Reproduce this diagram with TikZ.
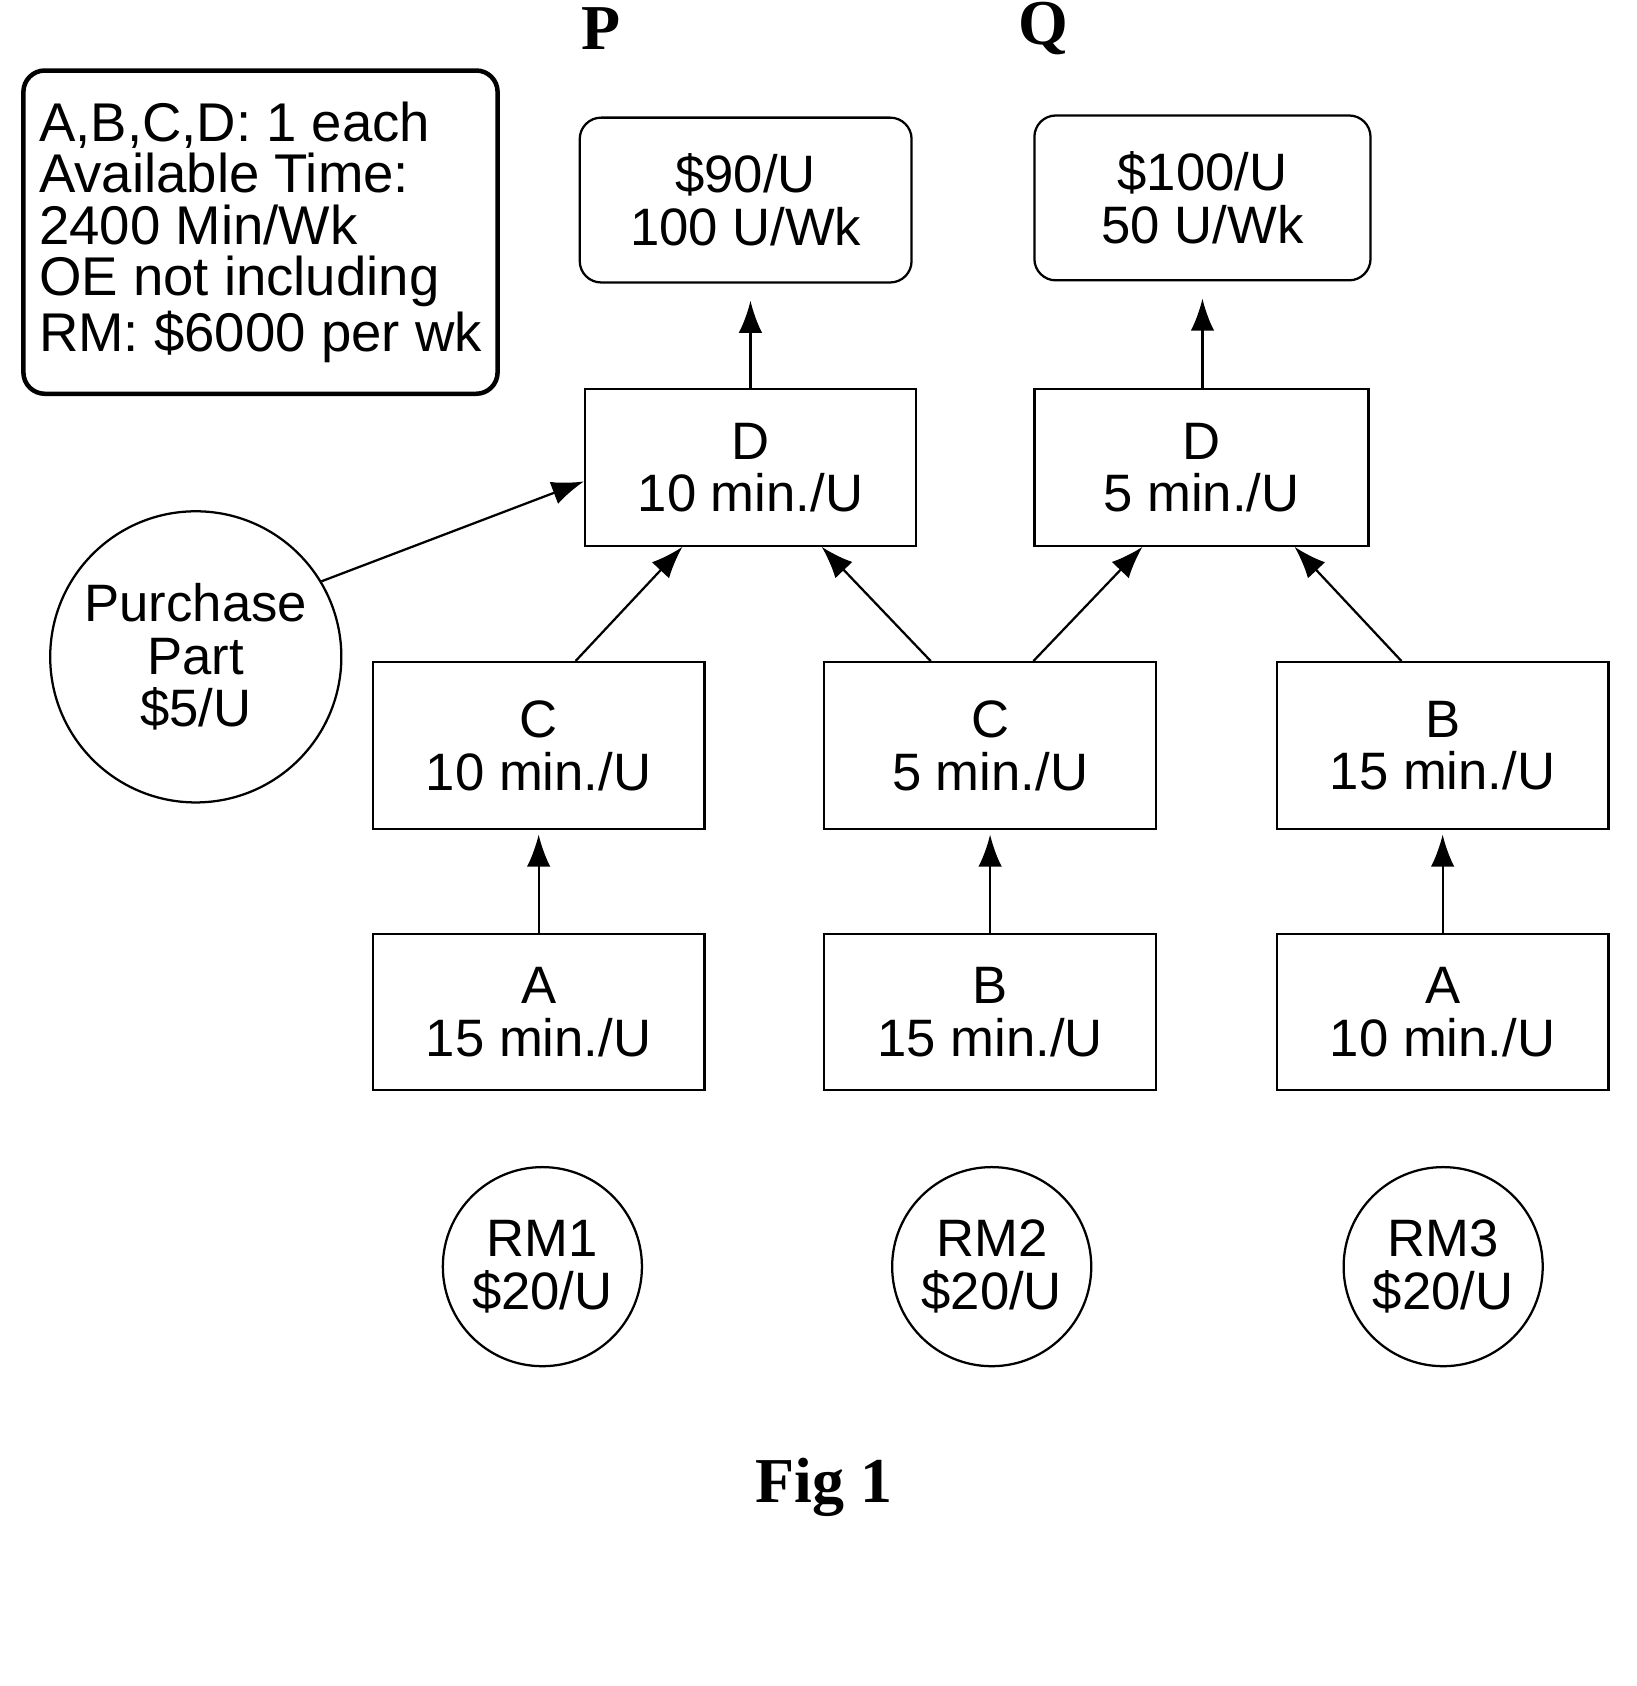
\documentclass[tikz,border=0pt]{standalone}
\usepackage{fontspec}
\setmainfont{Liberation Sans}
\newfontfamily\serifbf{Liberation Serif}
\usetikzlibrary{arrows.meta,calc}
\begin{document}
\begin{tikzpicture}[x=0.01cm,y=-0.01cm,
  every node/.style={font=\fontsize{14}{14}\selectfont},
  box/.style={draw,line width=0.6pt,minimum width=3.1cm,minimum height=1.46cm,align=center,inner sep=0pt},
  topbox/.style={box,rounded corners=0.2cm,minimum height=1.54cm},
  ring/.style={draw,circle,line width=0.6pt,align=center,inner sep=0pt},
  arr/.style={-{Latex[length=3mm,width=2.2mm]},line width=0.6pt},
  lbl/.style={font=\serifbf\bfseries\fontsize{17}{17}\selectfont}]
\useasboundingbox (0,0) rectangle (1530,1576);
% labels
\node[lbl] (lp) at (562,27) {P};
\node[lbl] (lq) at (975,27) {Q};
\node[lbl] (fig) at (770,1390) {Fig 1};
% info box
\node[draw,line width=1.2pt,rounded corners=0.2cm,minimum width=4.43cm,minimum height=3.02cm,
  align=left,inner sep=0pt,font=\fontsize{14.5}{13.7}\selectfont] (info) at (243.5,217)
  {A,B,C,D: 1 each\\Available Time:\\2400 Min/Wk\\OE not including\\RM: \$6000 per wk};
% products
\node[topbox] (tp) at (697,187) {\$90/U\\100 U/Wk};
\node[topbox,minimum width=3.14cm] (tq) at (1124,185) {\$100/U\\50 U/Wk};
% operations
\node[box,minimum width=3.09cm] (dp) at (701.5,437) {D\\10 min./U};
\node[box,minimum width=3.12cm] (dq) at (1123,437) {D\\5 min./U};
\node[box,minimum height=1.56cm] (c1) at (503.5,697) {C\\10 min./U};
\node[box,minimum height=1.56cm] (c2) at (925.5,697) {C\\5 min./U};
\node[box,minimum height=1.56cm] (b3) at (1348.5,697) {B\\15 min./U};
\node[box] (a1) at (503.5,946) {A\\15 min./U};
\node[box] (b2) at (925.5,946) {B\\15 min./U};
\node[box] (a3) at (1348.5,946) {A\\10 min./U};
% materials
\node[ring,minimum size=2.72cm] (pp) at (183,614) {Purchase\\Part\\\$5/U};
\node[ring,minimum size=1.86cm] (rm1) at (507,1184) {RM1\\\$20/U};
\node[ring,minimum size=1.86cm] (rm2) at (927,1184) {RM2\\\$20/U};
\node[ring,minimum size=1.86cm] (rm3) at (1349,1184) {RM3\\\$20/U};
% flows
\draw[arr,shorten >=0.16cm] (dp.north) -- (tp.south -| dp.north);
\draw[arr,shorten >=0.16cm] (dq.north -| tq.south) -- (tq.south);
\draw[arr] (pp.31) -- ([yshift=-0.13cm]dp.west);
\draw[arr] ([xshift=0.345cm]c1.north) -- ([xshift=-0.635cm]dp.south);
\draw[arr] ([xshift=-0.555cm]c2.north) -- ([xshift=0.665cm]dp.south);
\draw[arr] ([xshift=0.405cm]c2.north) -- ([xshift=-0.55cm]dq.south);
\draw[arr] ([xshift=-0.385cm]b3.north) -- ([xshift=0.87cm]dq.south);
\draw[arr,shorten >=0.04cm] (a1.north) -- (c1.south);
\draw[arr,shorten >=0.04cm] (b2.north) -- (c2.south);
\draw[arr,shorten >=0.04cm] (a3.north) -- (b3.south);
\end{tikzpicture}
\end{document}
